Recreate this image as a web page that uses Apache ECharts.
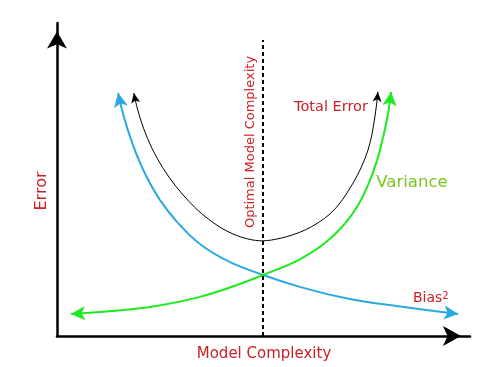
<!DOCTYPE html>
<html><head><meta charset="utf-8">
<script src="https://cdn.jsdelivr.net/npm/echarts@6/dist/echarts.min.js"></script>
<style>html,body{margin:0;padding:0;background:#fff}#c{width:500px;height:367px}</style>
</head><body><div id="c"></div>
<script>
// Model complexity (x) vs error (y) (axes 0..10)
const biasX = [1.48, 1.60, 1.84, 2.16, 2.49, 2.91, 3.46, 4.19, 4.99, 5.88, 7.09, 8.31, 9.71];
const biasY = [7.76, 7.09, 6.10, 5.11, 4.35, 3.64, 2.94, 2.36, 1.95, 1.57, 1.18, 0.94, 0.70];
const varX  = [0.34, 1.04, 2.25, 3.46, 4.36, 4.99, 5.88, 6.49, 6.97, 7.29, 7.53, 7.75, 7.89, 8.02, 8.09];
const varY  = [0.70, 0.77, 0.93, 1.25, 1.63, 1.95, 2.45, 2.97, 3.59, 4.18, 4.82, 5.61, 6.32, 7.14, 7.80];
const totX  = [1.86, 2.01, 2.42, 3.05, 3.66, 4.26, 4.99, 5.40, 6.01, 6.61, 7.17, 7.53, 7.70, 7.77];
const totY  = [7.76, 6.97, 5.69, 4.51, 3.74, 3.26, 3.04, 3.12, 3.39, 3.90, 4.89, 5.94, 7.03, 7.80];
const optimalX = 4.99;
const optimalTop = 9.46;
const labels = {
  yName: 'Error', xName: 'Model Complexity', optimal: 'Optimal Model Complexity',
  total: 'Total Error', variance: 'Variance', bias: 'Bias', biasSup: '2'
};

const FONT = 'DejaVu Sans';
const RED = '#cc2027';
const BLUE = '#29a9e1';
const GREEN = '#1ee81e';
const VARLABEL = '#7cc51f';

function pairs(xs, ys) { return xs.map((x, i) => [x, ys[i]]); }
const biasData = pairs(biasX, biasY);
const varData = pairs(varX, varY);
const totData = pairs(totX, totY);

// smooth spline helpers (chord-length Hermite with Bessel tangents), in pixel space
function sub(a, b) { return [a[0] - b[0], a[1] - b[1]]; }
function len(v) { return Math.hypot(v[0], v[1]); }
function tangents(p) {
  const n = p.length, d = [], D = [], T = [];
  for (let i = 0; i < n - 1; i++) { const v = sub(p[i + 1], p[i]); d.push(len(v)); D.push([v[0] / d[i], v[1] / d[i]]); }
  for (let i = 1; i < n - 1; i++) {
    const a = d[i - 1], b = d[i];
    T[i] = [(b * D[i - 1][0] + a * D[i][0]) / (a + b), (b * D[i - 1][1] + a * D[i][1]) / (a + b)];
  }
  const k0 = d[0] / (d[0] + d[1]);
  T[0] = [D[0][0] - k0 * (D[1][0] - D[0][0]), D[0][1] - k0 * (D[1][1] - D[0][1])];
  const m = n - 2, k1 = d[m] / (d[m] + d[m - 1]);
  T[n - 1] = [D[m][0] + k1 * (D[m][0] - D[m - 1][0]), D[m][1] + k1 * (D[m][1] - D[m - 1][1])];
  return {T, d};
}
function arrowHead(P, dir, size, color) {
  const L = len(dir), u = [dir[0] / L, dir[1] / L], nr = [-u[1], u[0]];
  const w = size[0] / 2, h = size[1];
  const back = [P[0] - u[0] * h, P[1] - u[1] * h];
  const notch = [P[0] - u[0] * h * 0.75, P[1] - u[1] * h * 0.75];
  return {type: 'polygon', shape: {points: [P, [back[0] + nr[0] * w, back[1] + nr[1] * w], notch, [back[0] - nr[0] * w, back[1] - nr[1] * w]]},
    style: {fill: color, stroke: null}};
}
function curveSeries(name, data, color, width, arrowSize, z, extra) {
  return Object.assign({
    type: 'custom', name: name, data: data, coordinateSystem: 'cartesian2d', silent: true, z: z,
    encode: {x: 0, y: 1},
    renderItem: function (params, api) {
      const pts = data.map(function (v) { return api.coord(v); });
      const s = tangents(pts), T = s.T, n = pts.length, i = params.dataIndex;
      const children = [];
      if (i < n - 1) {
        const p1 = pts[i], p2 = pts[i + 1], k = s.d[i] / 3;
        children.push({type: 'bezierCurve', shape: {
          x1: p1[0], y1: p1[1], x2: p2[0], y2: p2[1],
          cpx1: p1[0] + T[i][0] * k, cpy1: p1[1] + T[i][1] * k,
          cpx2: p2[0] - T[i + 1][0] * k, cpy2: p2[1] - T[i + 1][1] * k},
          style: {stroke: color, lineWidth: width, fill: null}});
      }
      if (i === 0) children.push(arrowHead(pts[0], [-T[0][0], -T[0][1]], arrowSize, color));
      if (i === n - 1) children.push(arrowHead(pts[n - 1], T[n - 1], arrowSize, color));
      return {type: 'group', children: children};
    }
  }, extra || {});
}

const chart = echarts.init(document.getElementById('c'), null, {renderer: 'canvas'});

function axis(sym) {
  return {
    type: 'value', min: 0, max: 10,
    axisLine: {show: true, onZero: false, symbol: ['none', 'arrow'], symbolSize: sym, symbolOffset: [0, -sym[1] / 2],
      lineStyle: {color: '#000', width: 2.5}},
    axisTick: {show: false}, axisLabel: {show: false}, splitLine: {show: false}
  };
}

chart.setOption({
  animation: false,
  grid: {left: 57, top: 23, width: 413, height: 313},
  xAxis: axis([15, 18]),
  yAxis: axis([15, 17]),
  series: [
    curveSeries('bias', biasData, BLUE, 2, [14, 14], 3),
    curveSeries('variance', varData, GREEN, 2, [14, 14], 3),
    curveSeries('total', totData, '#000', 1, [9, 10], 4, {
      markLine: {silent: true, symbol: 'none', label: {show: false},
        lineStyle: {color: '#000', width: 2, type: [4, 3]},
        data: [[{coord: [optimalX, 0]}, {coord: [optimalX, optimalTop]}]]}})
  ],
  graphic: [
    {type: 'text', x: 42, y: 191, rotation: Math.PI / 2, style: {text: labels.yName, fill: RED, font: '16px "' + FONT + '"', align: 'center', verticalAlign: 'middle'}},
    {type: 'text', x: 264, y: 354, style: {text: labels.xName, fill: RED, font: '15px "' + FONT + '"', align: 'center', verticalAlign: 'middle'}},
    {type: 'text', x: 251, y: 142, rotation: Math.PI / 2, style: {text: labels.optimal, fill: RED, font: '13px "' + FONT + '"', align: 'center', verticalAlign: 'middle'}},
    {type: 'text', x: 331, y: 107, style: {text: labels.total, fill: RED, font: '14.5px "' + FONT + '"', align: 'center', verticalAlign: 'middle'}},
    {type: 'text', x: 412, y: 183, style: {text: labels.variance, fill: VARLABEL, font: '16.5px "' + FONT + '"', align: 'center', verticalAlign: 'middle'}},
    {type: 'text', x: 413, y: 298, style: {text: '{b|' + labels.bias + '}{s|' + labels.biasSup + '}', align: 'left', verticalAlign: 'middle',
      rich: {b: {fill: RED, fontSize: 14, fontFamily: FONT}, s: {fill: RED, fontSize: 10, fontFamily: FONT, verticalAlign: 'top'}}}}
  ]
});
</script></body></html>
